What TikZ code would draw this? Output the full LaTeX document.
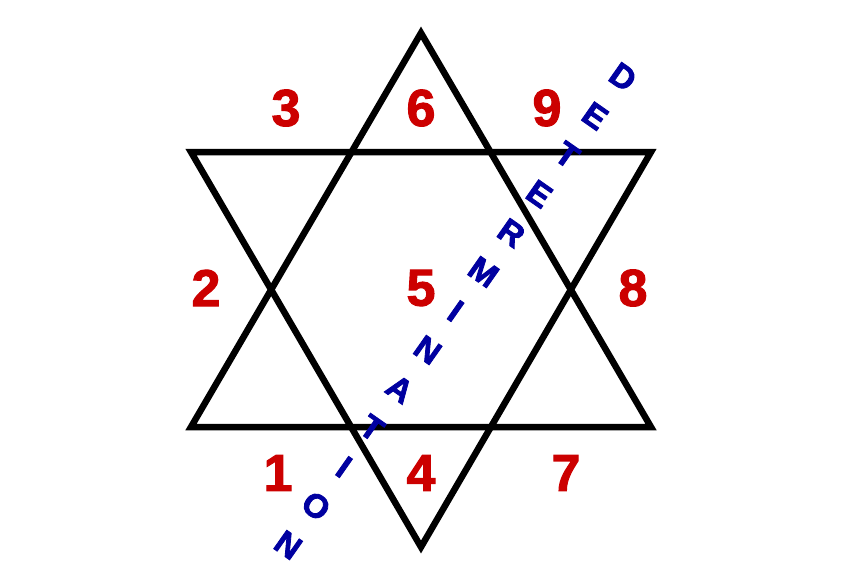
\documentclass[tikz,border=0pt]{standalone}
\usepackage{fontspec}
\setmainfont{Liberation Sans}
\begin{document}
\begin{tikzpicture}[x=1pt,y=-1pt,
  num/.style={text=numred,font=\fontsize{52}{52}\selectfont\bfseries\addfontfeature{FakeBold=2},inner sep=0pt},
  let/.style={text=letblue,font=\fontsize{33}{33}\selectfont\bfseries\addfontfeature{FakeBold=2.5},inner sep=0pt,rotate=-35},
  tri/.style={draw=black,line width=6.5pt,line join=miter}]
\definecolor{numred}{RGB}{204,0,0}
\definecolor{letblue}{RGB}{0,0,160}
\useasboundingbox (0,0) rectangle (864,576);
\draw[tri] (421,33) -- (651,427) -- (191,427) -- cycle;
\draw[tri] (191,152) -- (651,152) -- (421,547) -- cycle;
\node[num] (n3) at (286,108) {3};
\node[num] (n6) at (421,108) {6};
\node[num] (n9) at (547,108) {9};
\node[num] (n2) at (206,288) {2};
\node[num] (n5) at (421,288) {5};
\node[num] (n8) at (633,288) {8};
\node[num] (n1) at (278,473) {1};
\node[num] (n4) at (421,473) {4};
\node[num] (n7) at (566,473) {7};
\foreach \c [count=\i from 0] in {D,E,T,E,R,M,I,N,A,T,I,O,N}{
  \node[let] (l\i) at ({623-27.9*\i},{77+39*\i}) {\c};
}
\end{tikzpicture}
\end{document}
